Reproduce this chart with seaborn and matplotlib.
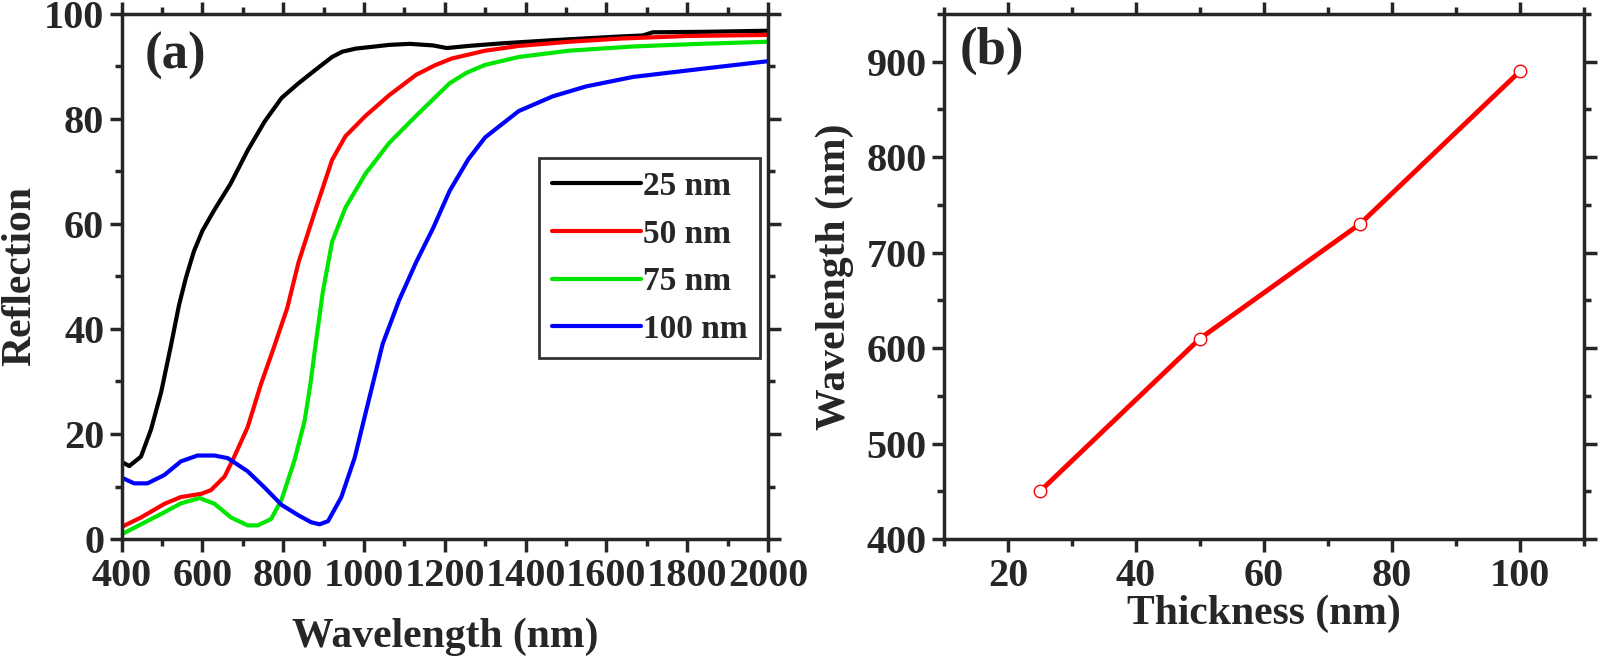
import numpy as np
import pandas as pd
import matplotlib
matplotlib.use("Agg")
import matplotlib.pyplot as plt
from matplotlib.ticker import MultipleLocator
import seaborn as sns

# reflection spectra
wl_25 = [400, 419, 448, 473, 498, 522, 542, 559, 579, 600, 629, 670, 712, 754, 796, 838, 879, 921, 946, 980,
         1004, 1062, 1113, 1171, 1205, 1258, 1342, 1467, 1633, 1690, 1715, 1850, 2000]
r_25 = [14.7, 13.9, 15.7, 20.9, 28.0, 36.8, 44.5, 49.7, 54.8, 58.7, 62.6, 67.7, 74.0, 79.5, 84.0, 86.8, 89.3, 91.8, 92.8, 93.4,
        93.6, 94.1, 94.3, 94.0, 93.5, 93.9, 94.4, 95.0, 95.7, 95.9, 96.5, 96.6, 96.8]

wl_50 = [400, 448, 506, 547, 597, 621, 655, 679, 712, 745, 777, 810, 838, 879, 921, 954, 1004, 1062, 1129, 1175,
         1217, 1300, 1383, 1508, 1633, 1800, 2000]
r_50 = [2.3, 4.1, 6.7, 8.0, 8.6, 9.3, 11.9, 15.7, 21.3, 29.5, 36.5, 44.0, 52.7, 62.5, 72.2, 76.7, 80.6, 84.5, 88.4, 90.2,
        91.5, 93.0, 93.9, 94.7, 95.3, 95.8, 96.0]

wl_75 = [400, 448, 506, 547, 593, 630, 671, 712, 737, 770, 796, 828, 853, 867, 881, 898, 921, 954, 1004, 1062,
         1129, 1212, 1254, 1300, 1383, 1508, 1666, 1831, 2000]
r_75 = [0.9, 2.8, 5.1, 6.8, 7.8, 6.7, 4.1, 2.6, 2.6, 3.8, 7.5, 15.0, 22.5, 29.3, 37.5, 47.0, 56.6, 63.1, 69.6, 75.4,
        80.6, 86.8, 88.8, 90.3, 91.8, 93.0, 93.8, 94.3, 94.7]

wl_100 = [400, 431, 464, 506, 547, 588, 630, 663, 712, 754, 796, 838, 869, 890, 911, 944, 977, 1004, 1046, 1087,
          1129, 1171, 1212, 1258, 1300, 1383, 1467, 1550, 1666, 1831, 2000]
r_100 = [11.7, 10.6, 10.6, 12.2, 14.8, 15.9, 15.9, 15.4, 12.9, 9.8, 6.5, 4.5, 3.2, 2.8, 3.4, 8.0, 15.5, 24.0, 37.1, 45.5,
         52.7, 59.2, 66.3, 72.3, 76.5, 81.5, 84.3, 86.2, 88.0, 89.5, 91.0]

labels = ["25 nm", "50 nm", "75 nm", "100 nm"]
colors = ["black", "#ff0000", "#00e600", "#0000ff"]

# panel (b)
thickness = [25, 50, 75, 100]
peak_wl = [450, 610, 730, 890]

frames = []
for lab, w, r in zip(labels, [wl_25, wl_50, wl_75, wl_100], [r_25, r_50, r_75, r_100]):
    frames.append(pd.DataFrame({"wl": w, "R": r, "thk": lab}))
spec = pd.concat(frames, ignore_index=True)
peaks = pd.DataFrame({"t": thickness, "wl": peak_wl})

sns.set_style("ticks")
plt.rcParams["font.family"] = ["Liberation Serif", "DejaVu Serif"]
plt.rcParams["font.weight"] = "bold"
plt.rcParams["axes.labelweight"] = "bold"

fig = plt.figure(figsize=(16, 6.63), dpi=100)
ax1 = fig.add_axes([0.076, 0.187, 0.404, 0.792])
ax2 = fig.add_axes([0.590, 0.187, 0.400, 0.792])

sns.lineplot(data=spec, x="wl", y="R", hue="thk", palette=colors, sort=False,
             linewidth=3, ax=ax1, estimator=None)
ax1.set_xlim(400, 2000)
ax1.set_ylim(0, 100)
ax1.xaxis.set_major_locator(MultipleLocator(200))
ax1.xaxis.set_minor_locator(MultipleLocator(100))
ax1.yaxis.set_major_locator(MultipleLocator(20))
ax1.yaxis.set_minor_locator(MultipleLocator(10))
ax1.set_xlabel("Wavelength (nm)", fontsize=30)
ax1.set_ylabel("Reflection", fontsize=30)
ax1.xaxis.set_label_coords(0.5, -0.15)
ax1.yaxis.set_label_coords(-0.128, 0.5)
ax1.text(0.035, 0.965, "(a)", transform=ax1.transAxes, fontsize=38,
         fontweight="bold", va="top", ha="left")
leg = ax1.legend(loc="upper left", bbox_to_anchor=(0.645, 0.726), fontsize=24,
                 frameon=True, fancybox=False, edgecolor="black",
                 handlelength=2.67, handletextpad=0.05, borderpad=0.4,
                 labelspacing=0.5, borderaxespad=0)
leg.get_frame().set_linewidth(2)
for line in leg.get_lines():
    line.set_linewidth(3)

sns.lineplot(data=peaks, x="t", y="wl", color="#ff0000", linewidth=3.5,
             marker="o", markersize=9, markerfacecolor="white",
             markeredgecolor="#ff0000", markeredgewidth=1, ax=ax2)
ax2.set_xlim(10, 110)
ax2.set_ylim(400, 950)
ax2.xaxis.set_major_locator(MultipleLocator(20))
ax2.xaxis.set_minor_locator(MultipleLocator(10))
ax2.yaxis.set_major_locator(MultipleLocator(100))
ax2.yaxis.set_minor_locator(MultipleLocator(50))
ax2.set_xlabel("Thickness (nm)", fontsize=30)
ax2.set_ylabel("Wavelength (nm)", fontsize=30)
ax2.xaxis.set_label_coords(0.5, -0.105)
ax2.yaxis.set_label_coords(-0.14, 0.5)
ax2.text(0.025, 0.975, "(b)", transform=ax2.transAxes, fontsize=38,
         fontweight="bold", va="top", ha="left")

for ax in (ax1, ax2):
    for s in ax.spines.values():
        s.set_visible(True)
        s.set_linewidth(2.5)
    ax.tick_params(which="both", direction="out", top=True, right=True,
                   width=2.5, labelsize=29)
    ax.tick_params(which="major", length=9)
    ax.tick_params(which="minor", length=5)
    ax.tick_params(axis="x", pad=5)
    for t in ax.get_xticklabels() + ax.get_yticklabels():
        t.set_fontweight("bold")

fig.savefig("out.png", dpi=100)
